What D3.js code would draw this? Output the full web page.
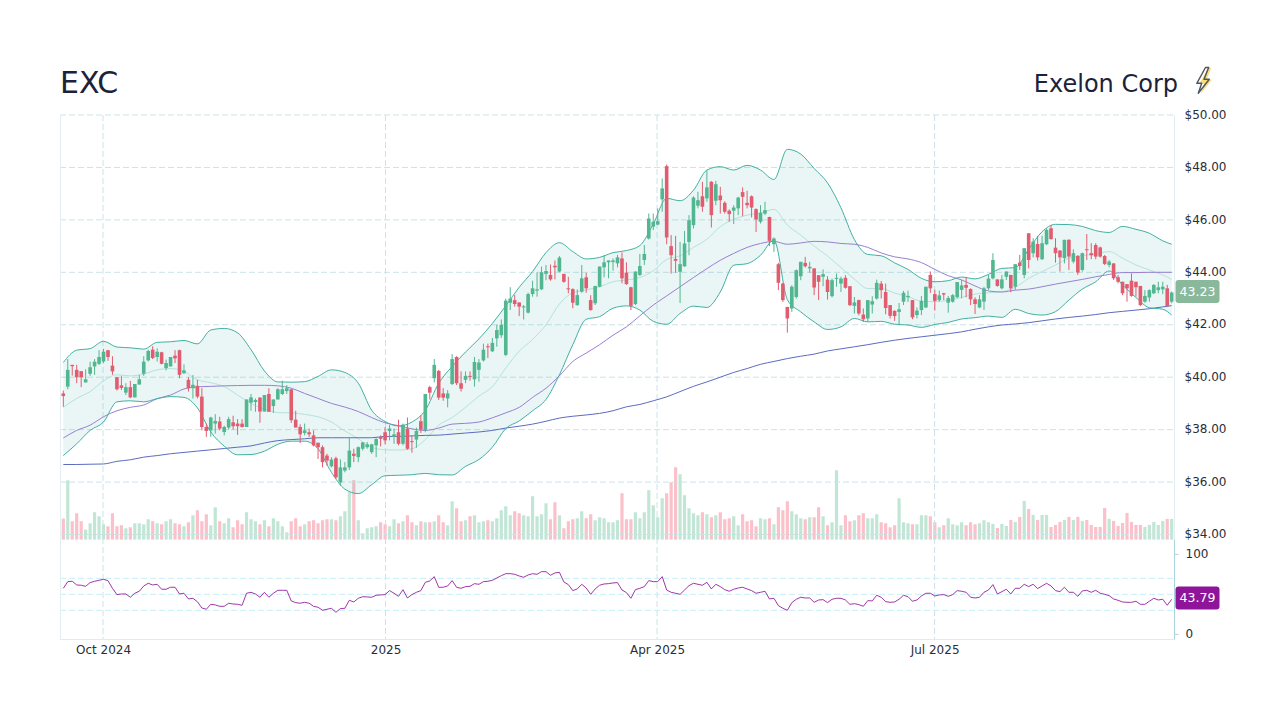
<!DOCTYPE html>
<html>
<head>
<meta charset="utf-8">
<script src="https://cdn.jsdelivr.net/npm/d3@7"></script>
<style>
  html, body { margin: 0; background: #fff; }
  svg { display: block; font-family: "DejaVu Sans", sans-serif; }
</style>
</head>
<body>
<svg width="1280" height="720"></svg>
<script>
// one entry per trading day
const opens = [
  39.38,39.64,40.47,40.28,40.23,39.8,40.13,40.41,40.51,40.6,
  41.03,40.44,40,39.69,39.41,39.62,39.23,39.72,40.13,40.64,
  41.05,40.77,40.95,40.35,40.41,40.82,41.03,40.15,39.9,39.58,
  39.67,39.26,38.1,37.97,38.23,38.31,37.91,38.08,38.28,38.23,
  38.23,38.1,39.03,39.05,39.22,38.69,39.36,38.9,39.15,39.36,
  39.47,39.54,38.38,38.1,37.87,37.9,37.78,37.5,37.33,37.01,
  36.6,36.91,35.99,36.44,36.56,37.08,36.95,37.27,37.33,37.14,
  37.4,37.72,37.9,37.95,37.72,37.9,37.46,38.04,37.56,37.62,
  38.32,37.97,39.62,39.96,40.24,39.38,39.19,39.74,40.77,39.77,
  39.9,40.05,39.92,40.28,40.64,41.18,40.99,41.48,41.6,40.85,
  42.84,42.94,42.85,42.66,42.46,43.17,43.3,43.35,43.94,43.9,
  44.25,44.03,43.94,43.39,43.36,42.75,43.26,43.81,42.94,42.82,
  43.45,44.19,44.38,44.39,44.34,44.53,43.99,43.43,42.79,43.9,
  44.47,45.29,45.74,45.82,46.78,48.05,45,44.51,44.02,44.23,
  45.16,45.8,46.54,46.9,46.82,47.45,46.73,46.93,46.65,46.35,
  46.35,46.44,47.06,46.65,46.9,46.41,45.93,46.24,46.11,45.07,
  44.31,43.57,42.68,42.62,43.06,43.85,44.36,44.15,44.15,43.89,
  43.83,43.72,43.09,43.75,43.57,43.79,43.47,42.72,42.94,42.39,
  42.24,42.77,43,43.57,43.25,42.75,42.53,42.49,42.88,43.05,
  42.94,42.37,42.56,42.66,43.9,43.17,42.94,43.2,42.84,42.88,
  43.05,43.33,43.52,43.36,42.97,42.66,42.88,43.39,43.77,43.73,
  43.39,43.83,43.9,43.45,44.37,43.9,45.49,44.73,45.08,44.5,
  45.07,45.68,44.94,44.83,44.54,45.24,44.41,44.62,44.09,44.88,
  44.73,45.04,44.95,44.62,44.28,44.34,43.81,43.64,43.55,43.68,
  43.64,43.48,42.88,43.04,43.2,43.32,43.35,43.39,42.88
];
const closes = [
  39.28,40.28,40.42,40,40,39.92,40.38,40.59,40.77,40.97,
  40.77,40.22,39.54,39.59,39.62,39.23,39.74,39.92,40.59,41,
  40.73,40.97,40.51,40.54,40.77,40.72,40.09,40.26,39.58,39.71,
  39.26,38.1,37.95,38.46,38.33,38.04,38.1,38.4,38.13,38.13,
  38.1,39.15,39.23,39.13,38.69,39.32,38.68,39.15,39.54,39.54,
  39.58,38.36,38.08,37.82,37.97,37.82,37.4,37.33,36.76,36.82,
  36.86,36.18,36.56,36.56,37.2,37,37.33,37.51,37.44,37.44,
  37.64,37.65,37.59,38.04,37.82,37.46,38.19,37.27,37.53,37.95,
  38,39.36,39.41,40.47,39.22,39.22,39.38,40.69,39.77,39.56,
  40.05,40.03,40.58,40.56,41.05,41.15,41.31,41.8,42,42.92,
  43,42.79,42.69,42.7,43.17,43.39,43.35,44,44.05,43.73,
  44.19,44.56,43.64,43.35,42.84,43.13,43.77,43.39,42.56,43.48,
  44.22,44.38,44.45,44.45,44.57,43.77,43.55,42.72,44.03,44.24,
  44.7,46.05,45.93,45.95,47.2,45.33,44.65,44.44,44.31,45.1,
  45.99,46.85,46.75,46.5,47.24,46.18,47.36,46.75,46.31,46.22,
  46.47,46.85,46.88,46.56,46.47,46.02,46.27,46.37,45.2,45.29,
  43.6,42.94,42.24,43.45,44.08,44.4,44.23,44.21,43.42,43.64,
  43.93,43.25,43.7,43.79,43.76,43.41,42.75,42.85,42.43,42.21,
  42.94,42.9,43.6,43.32,42.64,42.34,42.33,42.59,43.22,43.1,
  42.28,42.54,42.91,43.45,43.39,42.91,43.12,43.15,43.02,43.13,
  43.63,43.5,43.41,42.97,42.79,42.97,43.39,43.76,44.47,43.48,
  43.73,44.03,43.39,44.31,44.24,44.92,44.47,45.17,44.57,45.11,
  45.62,45.27,44.73,44.57,45.24,44.6,44.73,43.99,44.73,44.85,
  44.65,44.6,44.6,44.32,44.41,43.77,43.64,43.2,43.39,43.1,
  43.43,42.75,43.1,43.32,43.52,43.43,43.45,42.71,43.23
];
const highs = [
  39.49,40.69,40.47,40.47,40.23,40.3,40.59,40.69,41.03,41.08,
  41.03,40.8,40,40.05,39.77,39.86,39.74,40.09,40.8,41.05,
  41.18,41.1,40.97,40.67,40.77,41.03,41.05,40.49,40,40.08,
  39.9,39.58,38.23,38.49,38.59,38.49,38.15,38.49,38.53,38.4,
  38.4,39.15,39.36,39.19,39.24,39.32,39.58,39.15,39.58,39.87,
  39.7,39.54,38.72,38.2,38.23,38.04,37.97,37.5,37.4,37.08,
  36.95,36.97,36.87,36.76,37.72,37.27,37.36,37.53,37.53,37.46,
  37.69,37.78,38.1,38.17,38.04,38.38,38.23,38.46,37.78,38.08,
  38.55,39.36,39.67,40.69,40.28,39.58,39.51,40.88,40.8,40.22,
  40.22,40.22,40.77,40.69,41.28,41.28,41.5,42,42.2,43,
  43.43,43.13,42.85,42.75,43.22,43.68,44,44.22,44.28,44.3,
  44.45,44.62,43.94,43.83,43.39,43.35,44.28,43.98,43.13,43.48,
  44.22,44.66,44.45,44.53,44.66,44.76,44.38,43.45,44.03,44.7,
  45.04,46.24,46.24,46.44,47.58,48.11,45.42,45.39,45.16,45.58,
  46.18,46.9,47.07,47.45,47.9,47.48,47.49,47.26,46.71,46.4,
  46.56,46.88,47.24,47.11,46.93,46.44,46.56,46.69,46.12,45.33,
  44.36,43.6,42.68,43.51,44.11,44.4,44.59,44.4,44.15,43.89,
  44.11,43.85,43.76,43.95,43.83,43.89,43.47,43.06,42.96,42.62,
  42.94,43.09,43.72,43.67,43.57,42.75,42.55,42.83,43.29,43.3,
  42.94,42.66,43.1,43.45,44.03,43.33,43.3,43.22,43.1,43.17,
  43.63,43.71,43.81,43.39,43.05,43.13,43.45,43.9,44.73,43.73,
  43.9,44.03,43.9,44.31,44.66,44.92,45.49,45.3,45.39,45.39,
  45.68,45.81,45.3,44.85,45.24,45.26,44.88,44.66,44.75,45.46,
  45.11,45.11,44.98,44.66,44.47,44.34,43.9,43.64,43.55,43.96,
  43.64,43.48,43.32,43.35,43.55,43.64,43.64,43.52,43.27
];
const lows = [
  38.87,39.54,40.06,39.77,39.62,39.8,40.05,40.09,40.46,40.54,
  40.62,40.09,39.49,39.51,39.32,39.2,39.23,39.72,40.05,40.6,
  40.69,40.6,40.49,40.26,40.41,40.54,39.96,40.13,39.45,39.19,
  39.19,37.97,37.72,37.72,37.85,37.97,37.78,38,38,37.8,
  38.08,38.1,38.72,38.68,38.26,38.69,38.68,38.64,39.15,39.32,
  39.36,38.26,38.08,37.49,37.78,37.72,37.36,36.88,36.56,36.63,
  36.56,36.12,35.86,36.37,36.46,36.76,36.76,37.2,37.27,37.08,
  36.95,37.36,37.44,37.59,37.46,37.4,37.4,37.23,37.12,37.31,
  37.87,37.9,39.15,39.8,39.13,39.1,38.85,39.7,39.7,39.45,
  39.77,39.87,39.64,39.83,40.6,40.73,40.96,41.16,41.5,40.8,
  42.56,42.69,42.33,42.2,42.43,43.07,43.07,43.33,43.7,43.68,
  43.73,44,43.6,43.2,42.63,42.72,43.22,43.22,42.54,42.75,
  43.43,43.81,43.77,44.06,44.19,43.58,43.52,42.56,42.75,43.86,
  44.28,45.25,45.61,45.8,46.31,45.07,43.95,43.98,42.83,44.21,
  44.65,45.67,46.44,46.31,46.69,45.71,46.56,46.24,46.24,45.93,
  45.84,46.18,46.14,46.44,46.09,45.54,45.86,46.18,45,44.78,
  43.32,42.87,41.7,42.49,43,43.7,44.18,43.98,43.13,42.94,
  43.47,42.96,43.04,43.45,43.25,43.38,42.71,42.43,42.36,42.11,
  42.11,42.43,42.96,43,42.4,42.24,42.15,41.98,42.75,42.87,
  42.21,42.24,42.37,42.63,43.22,42.54,42.88,42.94,42.46,42.84,
  43.01,43.01,43.05,42.75,42.41,42.63,42.56,43.33,43.73,43.45,
  43.35,43.71,43.24,43.33,44.09,43.77,44.15,44.57,44.45,44.47,
  45.04,45.24,44.37,44.03,44.34,44.09,44.34,43.9,44.03,44.47,
  44.5,44.5,44.56,44.28,44.19,43.71,43.58,43.13,42.88,43.07,
  43.07,42.71,42.84,42.88,43.17,43.2,43.17,42.69,42.82
];
// volume in millions
const volumes = [
  6.3,17.8,5.5,7.9,5.5,3,4.9,8.2,7,4.6,
  4,7.9,4,4.3,3.4,3.7,4.9,4.9,4.6,6.1,
  5.5,4.9,4.6,5.5,6.1,4.9,4.6,4,5.2,7.3,
  8.8,5.5,7.6,4.3,9.7,5.5,4.9,6.4,3.7,5.8,
  4.6,8.2,6.1,5.5,4.6,5.8,4,6.4,5.5,4,
  2.2,5.5,6.4,4,4.6,5.5,5.8,4.9,5.8,6.1,
  6.1,5.8,7,8.5,14.2,17.8,5.8,1.9,3.4,3.7,
  4,5.2,4.6,4,6.1,4.9,5.5,7.3,5.2,4.3,
  5.5,5.2,5.2,5.5,7.3,5.2,4.3,11.5,9.4,5.5,
  5.8,7,7.3,5.2,5.5,5.8,5.5,6.4,8.8,10,
  7.3,8.5,7.9,7.3,7,13,7,7.6,10.9,6.1,
  11.2,7.3,3.4,5.5,6.1,6.4,8.5,6.4,7.6,5.8,
  6.7,6.4,5.2,5.2,5.8,13.9,6.1,6.1,8.2,6.4,
  8.2,14.8,10.3,6.7,12.4,13.9,17.2,21.7,19.6,13.3,
  9.4,7.9,7.3,8.2,7.6,6.7,7.3,8.2,6.1,6.4,
  7,4.3,7.6,5.5,5.8,4,6.4,6.1,6.4,4.6,
  9.7,8.8,11.5,8.5,7.6,6.4,6.1,6.7,6.7,9.7,
  7,4.3,5.2,20.8,4.3,7.3,5.5,5.8,7.3,7.9,
  6.4,6.4,7.6,5.2,4.9,3.7,4.3,12.4,5.2,4.9,
  4.6,4.6,7.3,7.3,7,5.2,3.7,4.3,6.4,4.6,
  4.3,5.2,4.3,5.2,4.6,4.9,5.8,5.2,4.7,3.5,
  4.7,4.1,5.9,5.3,6.8,11.6,9.2,7.4,5.9,7.4,
  7.4,3.8,4.4,5.3,5.9,6.8,5.9,6.8,5.6,5.9,
  4.4,3.8,3.8,9.5,6.2,5.6,4.1,5,8,5.3,
  4.4,4.4,3.8,4.4,5.3,4.4,5.6,6.2,6.2
];
const rsi = [
  57.5,65.8,66.3,61.7,61.3,60,64.6,66.3,67.5,68.8,
  67,57.5,49.6,50.4,50.4,46.3,51.3,53.8,60.4,63.8,
  61.7,62.5,56.3,56.3,58.8,58.8,50.4,51.3,44.2,45,
  40.8,32.9,31.3,37.5,36.7,35,35,38.8,37.9,37.5,
  36.3,51.3,52.5,50.4,46.3,52.5,46.3,51.3,55,55,
  55,41.7,39.6,38.8,40,38.8,35,33.8,30,31.3,
  32.5,27.5,32.1,32.5,42.5,40.4,45,47,46.7,46.3,
  48.8,49.2,49.6,54.6,51.3,47.5,55.8,45.4,49.6,52.5,
  54.6,65,66.7,72.1,58.8,58.8,60.4,67.1,58.8,57.5,
  59.6,60,63.3,62.5,65.8,66.3,67.5,70.4,73.3,75.8,
  75.8,75,72.9,71.3,74.2,75.8,75,78.3,78.3,73.8,
  76.7,77.5,65.4,62.1,54.6,56.7,62.5,57.9,50,56.7,
  61.3,62.9,63.3,64.2,64.6,55.4,52.1,45,55.8,57.5,
  59.6,67.1,65.8,65.8,72.1,55.4,52.5,51.3,50,55.4,
  60.8,63.8,62.5,61.3,65,56.7,62.5,59.6,55.8,53.8,
  56.3,57.9,58.8,56.7,54.6,51.3,52.5,53.8,44.2,45,
  35.8,32.5,30,39.6,43.8,46.3,45.4,45.4,40,42.9,
  43.3,39.6,43.8,45,45,42.9,37.5,38.3,37.1,35,
  42.1,41.7,48.8,46.3,40.8,40,40.4,43.8,48.8,47,
  41.3,42.9,47.9,51.3,51.3,47.9,49.2,49.6,47.5,49.6,
  54.6,53.8,52.5,46.3,45.4,46.3,52.5,55.4,62.1,50.4,
  53.3,56.3,50.4,57.5,57.5,62.5,59.6,62.5,57.1,60.4,
  63.8,60.4,54.6,53.3,58.8,52.5,52.5,47.5,54.2,55,
  52.5,55,51.3,50,48.3,44.2,42.5,40.4,40,40,
  41.3,37.5,37.5,41.3,45,42.9,43.8,36.3,43.79
];

// overlay lines are read every third trading day
const lineBars = d3.range(0, 247, 3).concat(248);
const bbUpper = [
  40.56,41.03,41.09,41.37,41.15,41.12,41.07,41.33,41.35,41.4,41.27,41.8,41.86,41.69,41.05,40.24,39.82,39.81,39.83,40.03,40.28,
  40.18,39.77,38.74,38.31,38.14,38.29,38.74,39.77,40.41,40.96,41.46,42.05,42.72,43.43,44.03,44.75,45.13,44.79,44.51,44.57,44.75,
  44.83,45.02,45.84,46.82,46.73,47.13,47.9,48.03,47.9,48.08,47.9,47.54,48.69,48.51,47.96,47.41,46.46,45.25,44.68,44.63,44.36,
  44.11,43.77,43.64,43.68,43.82,43.75,43.92,44.15,44.18,44.88,45.55,45.83,45.82,45.75,45.59,45.52,45.75,45.64,45.49,45.2,45.07
];
const bbMiddle = [
  38.85,39.19,39.45,39.86,40.09,40.05,40.12,40.28,40.33,40.22,39.9,39.79,39.64,39.32,39,38.78,38.65,38.64,38.58,38.49,38.29,
  37.95,37.65,37.33,37.23,37.22,37.27,37.62,38.17,38.46,38.85,39.28,39.64,40.35,40.99,41.44,42,42.79,43.22,43.33,43.45,43.64,
  43.71,43.8,44.06,44.49,44.63,44.95,45.26,45.74,46.02,46.18,46.27,46.4,45.8,45.42,45,44.62,44.18,43.74,43.38,43.38,43.21,
  43.07,42.9,42.88,42.94,43.04,43.17,43.22,43.26,43.43,43.77,44.03,44.28,44.54,44.64,44.7,44.79,44.54,44.28,44.09,43.9,43.73
];
const bbLower = [
  37.01,37.46,37.97,38.29,39.06,39.1,39.06,39.18,39.26,39.23,38.83,37.91,37.37,37.04,37.05,37.18,37.44,37.56,37.56,37.27,36.37,
  35.73,35.56,35.9,36.24,36.26,36.28,36.33,36.28,36.27,36.6,36.86,37.33,38.04,38.33,38.72,39.15,40.09,41.24,42.21,42.31,42.63,
  42.72,42.56,42.13,42.02,42.43,42.71,42.66,43.25,44.27,44.33,44.65,45.23,42.96,42.49,42.11,41.82,41.92,42.24,42.11,42.13,42.02,
  41.99,41.9,42.01,42.09,42.22,42.27,42.33,42.28,42.59,42.43,42.37,42.5,42.94,43.36,43.64,44.05,43.52,43.04,42.65,42.59,42.37
];
const sma50 = [
  37.68,37.97,38.17,38.49,38.72,38.85,38.94,39.18,39.32,39.55,39.63,39.65,39.67,39.68,39.69,39.69,39.67,39.58,39.38,39.19,39,
  38.86,38.69,38.46,38.26,38.15,38.03,37.97,38.06,38.21,38.24,38.29,38.45,38.64,38.85,39.23,39.58,40.05,40.6,40.92,41.24,41.6,
  41.92,42.34,42.75,43.1,43.45,43.8,44.14,44.46,44.72,44.95,45.1,45.18,45.07,45.12,45.18,45.16,45.1,45.07,44.95,44.74,44.59,
  44.51,44.37,44.11,43.87,43.71,43.48,43.29,43.25,43.32,43.36,43.45,43.55,43.64,43.73,43.83,43.92,43.99,43.99,44,44,44
];
const sma200 = [
  36.67,36.67,36.68,36.69,36.79,36.85,36.95,37.01,37.08,37.13,37.18,37.23,37.28,37.33,37.38,37.49,37.58,37.62,37.65,37.69,37.69,
  37.69,37.69,37.69,37.74,37.74,37.76,37.78,37.79,37.83,37.87,37.91,37.97,38.06,38.13,38.21,38.32,38.44,38.51,38.56,38.62,38.72,
  38.87,38.96,39.1,39.25,39.45,39.65,39.82,40,40.18,40.33,40.49,40.6,40.71,40.8,40.88,41,41.08,41.16,41.24,41.33,41.41,
  41.48,41.54,41.6,41.66,41.73,41.83,41.92,41.99,42.03,42.08,42.15,42.22,42.28,42.33,42.39,42.46,42.51,42.56,42.61,42.68,42.73
];

const priceTicks = d3.range(34, 51, 2);
const rsiTicks = [0, 100];
const rsiGuides = [30, 50, 70];
const dateTickBars = [8.88, 72.1, 132.85, 194.95];
const dateTickLabels = ["Oct 2024", "2025", "Apr 2025", "Jul 2025"];

const symbol = "EXC";
const companyName = "Exelon Corp";

const svg = d3.select("svg");
const plotLeft = 60, plotRight = 1174.5, plotTop = 115, volBase = 539.6, plotBottom = 639.5;

const x = d3.scaleLinear().domain([0, closes.length - 1]).range([63.3, 1171.7]);
const y = d3.scaleLinear().domain([34, 50]).range([534.5, 115]);
const yVol = d3.scaleLinear().domain([0, 20]).range([volBase, volBase - 66.7]);
const yRsi = d3.scaleLinear().domain([0, 100]).range([634.3, 554.3]);

const upColor = "#52b690", downColor = "#e25c70";
const isUp = (i) => closes[i] >= opens[i];
const bars = d3.range(closes.length);

// volume sits under the grid
svg.append("g").selectAll("rect").data(bars).enter().append("rect")
  .attr("x", (i) => x(i) - 1.6)
  .attr("width", 3.2)
  .attr("y", (i) => yVol(volumes[i]))
  .attr("height", (i) => volBase - yVol(volumes[i]))
  .attr("fill", (i) => isUp(i) ? "#c2e6d6" : "#fbc1ca");

// grid
const grid = svg.append("g").attr("stroke", "#cce3e8").attr("stroke-dasharray", "6 3");
grid.selectAll(".h").data(priceTicks).enter().append("line")
  .attr("x1", plotLeft).attr("x2", plotRight)
  .attr("y1", (d) => y(d)).attr("y2", (d) => y(d));
grid.selectAll(".v").data(dateTickBars).enter().append("line")
  .attr("x1", (d) => x(d)).attr("x2", (d) => x(d))
  .attr("y1", plotTop).attr("y2", plotBottom);
svg.append("g").attr("stroke", "#c6eefb").attr("stroke-dasharray", "6 3")
  .selectAll("line").data(rsiGuides).enter().append("line")
  .attr("x1", plotLeft).attr("x2", plotRight)
  .attr("y1", (d) => yRsi(d)).attr("y2", (d) => yRsi(d));

// frame
const frame = svg.append("g").attr("fill", "none");
frame.append("path").attr("stroke", "#e3eef2").attr("d", `M${plotLeft + .5},${plotTop}V${plotBottom}`);
frame.append("path").attr("stroke", "#e3eef2").attr("d", `M${plotRight},${plotTop}V${volBase}`);
frame.append("path").attr("stroke", "#a9d4dd").attr("d", `M${plotRight},${volBase}V${plotBottom}`);
frame.append("path").attr("stroke", "#e2eaec").attr("d", `M${plotLeft},${plotBottom}H${plotRight}`);

// bollinger band
const band = d3.area()
  .curve(d3.curveMonotoneX)
  .x((d, k) => x(lineBars[k]))
  .y0((d, k) => y(bbLower[k]))
  .y1((d) => y(d));
svg.append("path").datum(bbUpper).attr("d", band).attr("fill", "#26a69a").attr("fill-opacity", 0.1);

const line = d3.line().curve(d3.curveMonotoneX).x((d, k) => x(lineBars[k])).y((d) => y(d));
const overlays = [
  [bbMiddle, "#b5e2da"],
  [sma200, "#5c6bc0"],
  [sma50, "#9a7fd1"],
  [bbUpper, "#42b0a2"],
  [bbLower, "#42b0a2"]
];
svg.append("g").attr("fill", "none").attr("stroke-width", 1)
  .selectAll("path").data(overlays).enter().append("path")
  .attr("d", (d) => line(d[0]))
  .attr("stroke", (d) => d[1]);

// candles
const candles = svg.append("g").selectAll("g").data(bars).enter().append("g")
  .attr("fill", (i) => isUp(i) ? upColor : downColor)
  .attr("stroke", (i) => isUp(i) ? upColor : downColor);
candles.append("line")
  .attr("x1", (i) => x(i)).attr("x2", (i) => x(i))
  .attr("y1", (i) => y(highs[i])).attr("y2", (i) => y(lows[i]));
candles.append("rect")
  .attr("stroke", "none")
  .attr("x", (i) => x(i) - 1.8)
  .attr("width", 3.6)
  .attr("y", (i) => y(Math.max(opens[i], closes[i])))
  .attr("height", (i) => Math.max(1, Math.abs(y(opens[i]) - y(closes[i]))));

// rsi
svg.append("path")
  .attr("d", d3.line().x((d, i) => x(i)).y((d) => yRsi(d))(rsi))
  .attr("fill", "none")
  .attr("stroke", "#8e1599")
  .attr("stroke-opacity", 0.85)
  .attr("stroke-width", 1);

// axes
const styleAxis = (g) => {
  g.select(".domain").remove();
  g.selectAll("text").attr("fill", "#2a2e39").style("font-size", "12px").style("font-family", "DejaVu Sans");
  g.selectAll("line").attr("stroke", "#a9d4dd");
};
svg.append("g")
  .attr("transform", `translate(${plotRight},-0.7)`)
  .call(d3.axisRight(y).tickValues(priceTicks).tickSize(0).tickPadding(10).tickFormat((d) => "$" + d.toFixed(2)))
  .call(styleAxis);
svg.append("g")
  .attr("transform", `translate(${plotRight},-0.5)`)
  .call(d3.axisRight(yRsi).tickValues(rsiTicks).tickSize(4).tickPadding(7))
  .call(styleAxis);
svg.append("g")
  .attr("transform", `translate(0,${plotBottom + 2})`)
  .call(d3.axisBottom(x).tickValues(dateTickBars).tickSize(0).tickPadding(4).tickFormat((d, i) => dateTickLabels[i]))
  .call(styleAxis);

// last value tags
const lastTags = [
  [closes[closes.length - 1], y(closes[closes.length - 1]) - 1, "#8ab89b"],
  [rsi[rsi.length - 1], yRsi(rsi[rsi.length - 1]) - 1.3, "#8e1599"]
];
const tags = svg.append("g").selectAll("g").data(lastTags).enter().append("g")
  .attr("transform", (d) => `translate(${plotRight + 1},${d[1]})`);
tags.append("rect")
  .attr("y", -11.5).attr("width", 44).attr("height", 23).attr("rx", 3)
  .attr("fill", (d) => d[2]);
tags.append("text")
  .attr("x", 22).attr("dy", "0.36em").attr("text-anchor", "middle")
  .attr("fill", "#fff").style("font-size", "12.5px")
  .text((d) => d[0].toFixed(2));

// titles
svg.append("text").attr("x", 60).attr("y", 93)
  .attr("fill", "#1c2238").style("font-size", "30px").text(symbol);
svg.append("text").attr("x", 1178).attr("y", 92).attr("text-anchor", "end")
  .attr("fill", "#1c2238").style("font-size", "24px").text(companyName);

// lightning icon
const bolt = "M1205.5,67.5L1196.8,83.3H1201.7L1198.3,93.3L1209.3,79.3H1204L1208.7,67.5Z";
svg.append("path").attr("d", bolt).attr("transform", "translate(2.5,0.5)").attr("fill", "#fbdc76");
svg.append("path").attr("d", bolt).attr("fill", "none").attr("stroke", "#4b5563").attr("stroke-width", 1.4).attr("stroke-linejoin", "round");
</script>
</body>
</html>
